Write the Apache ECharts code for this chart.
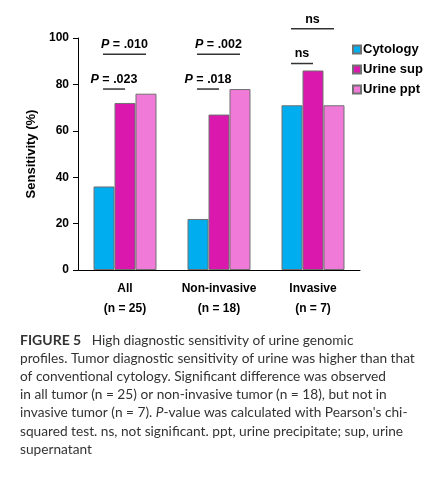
<!DOCTYPE html>
<html>
<head>
<meta charset="utf-8">
<script src="https://cdn.jsdelivr.net/npm/echarts@6/dist/echarts.min.js"></script>
<style>
  html, body { margin: 0; padding: 0; background: #fff; }
  #main { width: 435px; height: 486px; }
</style>
</head>
<body>
<div id="main"></div>
<script>
var categories = ['All', 'Non-invasive', 'Invasive'];
var sampleSizes = ['(n = 25)', '(n = 18)', '(n = 7)'];
var seriesNames = ['Cytology', 'Urine sup', 'Urine ppt'];
var cytology = [36, 22, 71];
var urineSup = [72, 67, 86];
var urinePpt = [76, 78, 71];
var colors = ['#00AEEF', '#DA18AE', '#F07AD8'];

// significance brackets: category, first bar, last bar, height (%)
var sigLabels = ['P = .010', 'P = .023', 'P = .002', 'P = .018', 'ns', 'ns'];
var sigCategory = [0, 0, 1, 1, 2, 2];
var sigFrom = [0, 0, 0, 0, 0, 0];
var sigTo = [2, 1, 2, 1, 2, 1];
var sigLevel = [93, 78, 93, 78, 104, 89];

var caption = '{b|FIGURE 5}   High diagnostic sensitivity of urine genomic\n' +
    'profiles. Tumor diagnostic sensitivity of urine was higher than that\n' +
    'of conventional cytology. Significant difference was observed\n' +
    'in all tumor (n = 25) or non-invasive tumor (n = 18), but not in\n' +
    'invasive tumor (n = 7). {i|P}-value was calculated with Pearson\'s chi-\n' +
    'squared test. ns, not significant. ppt, urine precipitate; sup, urine\n' +
    'supernatant';

var font = '"Liberation Sans", Arial, sans-serif';
var myChart = echarts.init(document.getElementById('main'));
var allData = [cytology, urineSup, urinePpt];
var catGap = 0.33;

var option = {
    animation: false,
    backgroundColor: '#fff',
    grid: { left: 78, right: 75, top: 38, bottom: 216 },
    legend: {
        orient: 'vertical',
        left: 347,
        top: 38,
        itemWidth: 8,
        itemHeight: 8,
        itemGap: 7,
        icon: 'rect',
        textStyle: { fontFamily: font, fontWeight: 'bold', fontSize: 13, color: '#000', padding: [0, 0, 0, -3] },
        data: seriesNames
    },
    xAxis: {
        type: 'category',
        data: categories,
        axisLine: { lineStyle: { color: '#000', width: 1 } },
        axisTick: { length: 4, lineStyle: { color: '#000' } },
        axisLabel: {
            interval: 0,
            fontFamily: font, fontWeight: 'bold', fontSize: 12, color: '#000',
            lineHeight: 20, margin: 9,
            formatter: function (v, i) { return v + '\n' + sampleSizes[i]; }
        }
    },
    yAxis: {
        type: 'value',
        min: 0, max: 100, interval: 20,
        name: 'Sensitivity (%)',
        nameLocation: 'middle',
        nameGap: 38,
        nameTextStyle: { fontFamily: font, fontWeight: 'bold', fontSize: 13, color: '#000' },
        splitLine: { show: false },
        axisLine: { show: true, lineStyle: { color: '#000', width: 1 } },
        axisTick: { show: true, length: 5, lineStyle: { color: '#000' } },
        axisLabel: { fontFamily: font, fontWeight: 'bold', fontSize: 12, color: '#000', margin: 9 }
    },
    series: seriesNames.map(function (name, k) {
        return {
            name: name,
            type: 'bar',
            data: allData[k],
            barGap: 0,
            barCategoryGap: (catGap * 100) + '%',
            itemStyle: { color: colors[k], borderColor: '#707070', borderWidth: 1 }
        };
    })
};

myChart.setOption(option);

// brackets placed through the axes
var x0 = myChart.convertToPixel({ xAxisIndex: 0 }, 0);
var x1 = myChart.convertToPixel({ xAxisIndex: 0 }, 1);
var barW = (x1 - x0) * (1 - catGap) / 3;
var graphics = [];
sigLabels.forEach(function (lbl, i) {
    var c = myChart.convertToPixel({ xAxisIndex: 0 }, sigCategory[i]);
    var xa = c + (sigFrom[i] - 1) * barW - 1;
    var xb = c + (sigTo[i] - 1) * barW;
    var y = myChart.convertToPixel({ yAxisIndex: 0 }, sigLevel[i]);
    graphics.push({
        type: 'line',
        shape: { x1: xa, y1: y, x2: xb, y2: y },
        style: { stroke: '#333', lineWidth: 1.5 }
    });
    var txt = lbl.indexOf('P') === 0 ? '{i|P}' + lbl.slice(1) : lbl;
    graphics.push({
        type: 'text',
        x: (xa + xb) / 2,
        y: y - 3,
        style: {
            text: txt,
            align: 'center',
            verticalAlign: 'bottom',
            font: 'bold 12.5px ' + font,
            fill: '#000',
            rich: { i: { fontStyle: 'italic', fontWeight: 'bold', fontSize: 12.5, fontFamily: font } }
        }
    });
});

graphics.push({
    type: 'text',
    left: 20,
    top: 331,
    style: {
        text: caption,
        font: '13.7px Lato, "Open Sans", sans-serif',
        fill: '#333',
        lineHeight: 18.2,
        rich: {
            b: { fontWeight: 'bold', fontSize: 14, fontFamily: 'Lato, sans-serif', fill: '#333', lineHeight: 18.2 },
            i: { fontStyle: 'italic', fontSize: 13.7, fontFamily: 'Lato, sans-serif', fill: '#333', lineHeight: 18.2 }
        }
    }
});

myChart.setOption({ graphic: graphics });
</script>
</body>
</html>
